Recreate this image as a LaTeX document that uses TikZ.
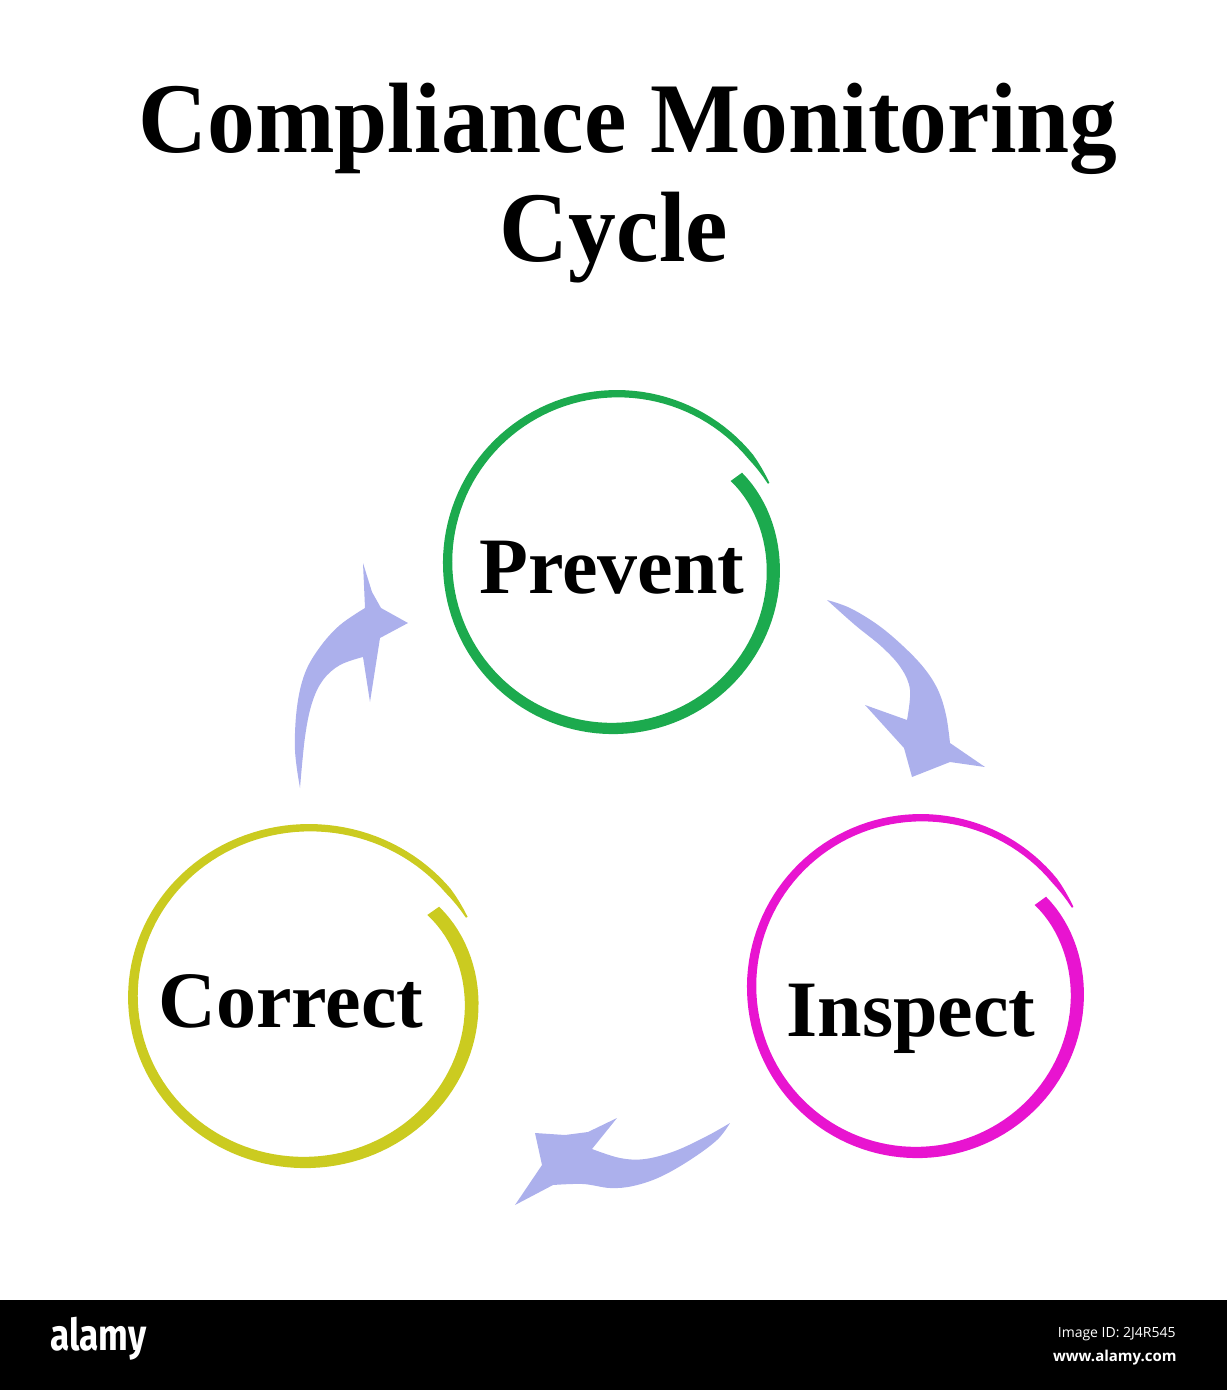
\documentclass[tikz,border=0pt]{standalone}
\usepackage{fontspec}
\setmainfont{Liberation Serif}
\newfontfamily\logofont{Fira Sans}
\newfontfamily\barfont{Open Sans}
\usepackage{tikz}
\usetikzlibrary{positioning}

\definecolor{preventgreen}{RGB}{28,170,78}
\definecolor{inspectpink}{RGB}{232,20,208}
\definecolor{correctolive}{RGB}{203,203,32}
\definecolor{swooshblue}{RGB}{172,176,236}

% hand drawn ring, thick start, thin tail
\tikzset{
  ring/.pic={
    \fill plot[domain=-36:332, samples=140, variable=\a]
      ({\a}:{158+16*(\a+36)/368-8*exp(-(\a+36)/20)+0.5*(14-8*(\a+36)/368)*min(1,0.3+(332-\a)/15)})
    -- plot[domain=332:-36, samples=140, variable=\a]
      ({\a}:{158+16*(\a+36)/368-8*exp(-(\a+36)/20)-0.5*(14-8*(\a+36)/368)*min(1,0.3+(332-\a)/15)})
    -- cycle;
  }
}

\begin{document}
\begin{tikzpicture}[x=0.5pt, y=-0.5pt,
  title/.style={font=\fontsize{50}{60}\selectfont\bfseries, inner sep=0pt, anchor=base},
  label/.style={font=\fontsize{40}{48}\selectfont\bfseries, inner sep=0pt, anchor=base},
  swoosh/.style={fill=swooshblue}]
        \useasboundingbox (0,0) rectangle (1227,1390);

        \node[title] (title1) at (628,153) {\scalebox{0.955}[1]{Compliance Monitoring}};
        \node[title] (title2) at (614,262) {\scalebox{0.955}[1]{Cycle}};

        \coordinate (preventc) at (615,565);
        \coordinate (inspectc) at (919,989);
        \coordinate (correctc) at (307,999);

        \pic[fill=preventgreen] at (preventc) {ring};
        \pic[fill=inspectpink] at (inspectc) {ring};
        \pic[fill=correctolive, xscale=1.04] at (correctc) {ring};

        \node[label] (prevent) at (612,593) {Prevent};
        \node[label] (inspect) at (911,1036) {Inspect};
        \node[label] (correct) at (291,1027) {Correct};

        % correct -> prevent
        \fill[swoosh] plot[smooth, tension=0.6] coordinates {(300,788) (295,750) (297,707) (305,673) (320,647) (340,625) (365,608)}
          -- (363,563) -- (372,592) -- (381,608) -- (408,623) -- (380,638) -- (370,702) -- (363,657)
          -- plot[smooth, tension=0.6] coordinates {(363,657) (340,665) (323,680) (312,703) (305,737) (300,788)} -- cycle;
        % prevent -> inspect
        \fill[swoosh] plot[smooth, tension=0.6] coordinates {(827,600) (850,608) (878,625) (903,646) (924,668) (938,690) (946,715) (950,743)}
          -- (985,767) -- (950,762) -- (912,777) -- (904,748) -- (865,705) -- (907,720)
          -- plot[smooth, tension=0.6] coordinates {(907,720) (910,690) (901,668) (882,647) (855,625) (827,600)} -- cycle;
        % inspect -> correct
        \fill[swoosh] plot[smooth, tension=0.6] coordinates {(730,1123) (707,1136) (675,1151) (645,1159) (620,1158) (592,1149)}
          -- (617,1118) -- (588,1132) -- (565,1135) -- (535,1133) -- (542,1165) -- (515,1205) -- (553,1185)
          -- plot[smooth, tension=0.6] coordinates {(553,1185) (583,1184) (610,1188) (633,1186) (660,1177) (690,1160) (717,1140) (730,1123)} -- cycle;

        % stock bar
        \fill[black] (0,1300) rectangle (1227,1390);
        \node[anchor=base west, inner sep=0pt, text=white, font=\logofont\fontsize{22}{24}\selectfont\bfseries] (logo) at (50,1350) {\scalebox{0.8}[1]{alamy}};
        \node[anchor=base east, inner sep=0pt, text=white, font=\barfont\fontsize{7}{8}\selectfont] (imageid) at (1176,1337) {Image ID: 2J4R545};
        \node[anchor=base east, inner sep=0pt, text=white, font=\barfont\fontsize{7.5}{9}\selectfont\bfseries] (site) at (1177,1361) {www.alamy.com};
\end{tikzpicture}
\end{document}
